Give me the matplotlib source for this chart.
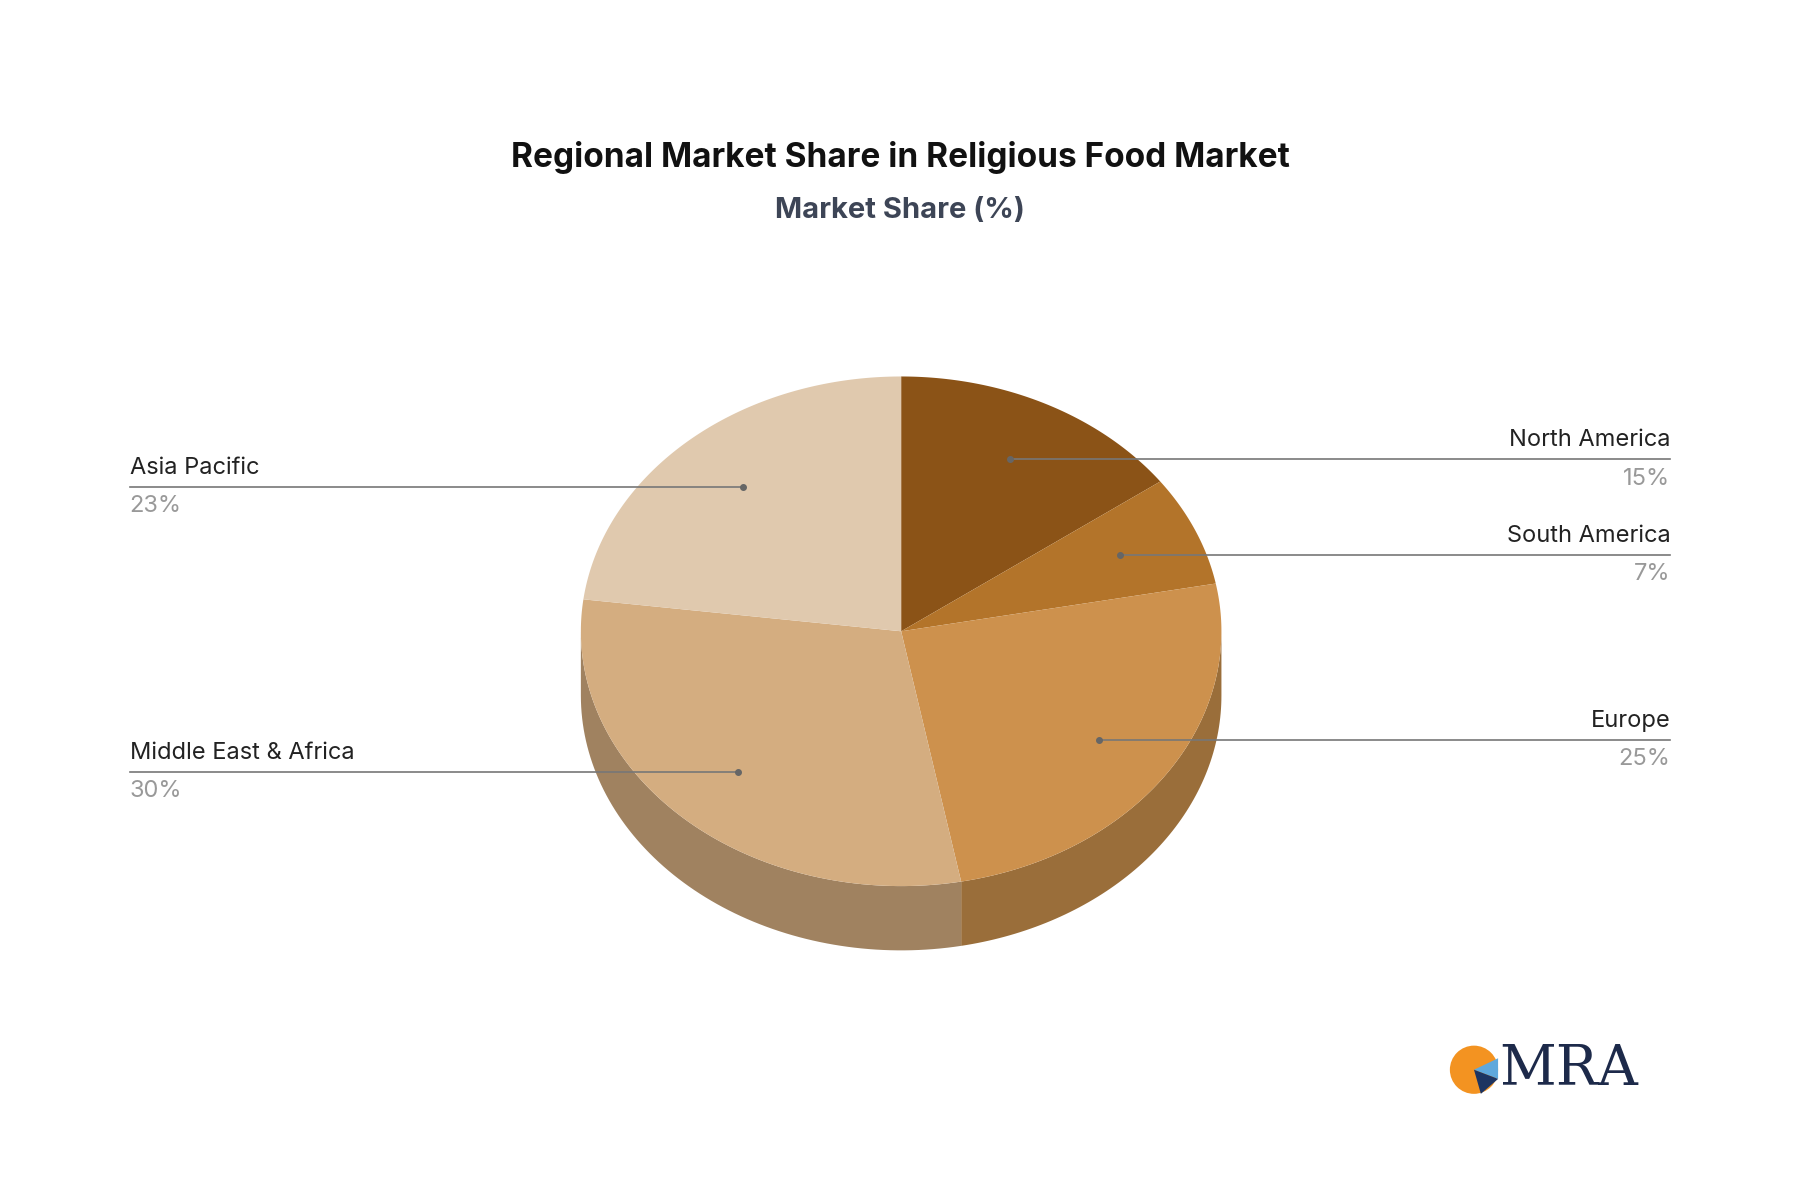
import numpy as np
import matplotlib.pyplot as plt
from matplotlib.patches import Polygon, Circle

regions = ["North America", "South America", "Europe", "Middle East & Africa", "Asia Pacific"]
shares = [15, 7, 25, 30, 23]
top_colors = ["#8b5317", "#b3742a", "#cd914d", "#d4ad80", "#e0c9ae"]
side_colors = ["#6e4212", "#8d5b21", "#9a6e3a", "#a08260", "#b09a80"]

plt.rcParams['font.family'] = ['Inter', 'DejaVu Sans']

W, H = 1568, 1042
fig = plt.figure(figsize=(18, 11.96), dpi=100)
ax = fig.add_axes([0, 0, 1, 1])
ax.set_xlim(0, W)
ax.set_ylim(H, 0)
ax.axis('off')

cx, cy, rx, ry, depth = 785, 550, 279, 222, 56

def pt(a, r=1.0, dy=0):
    return cx + r * rx * np.cos(np.radians(a)), cy - r * ry * np.sin(np.radians(a)) + dy

# angles, clockwise from top
bounds = 90 - np.cumsum([0] + shares) * 3.6
slices = list(zip(bounds[:-1], bounds[1:]))

# side faces (front half only)
for (a0, a1), sc in zip(slices, side_colors):
    lo, hi = max(a1, -180), min(a0, 0)
    if lo >= hi:
        continue
    t = np.linspace(hi, lo, 80)
    top = [pt(a) for a in t]
    bot = [pt(a, dy=depth) for a in t[::-1]]
    ax.add_patch(Polygon(top + bot, closed=True, fc=sc, ec='none'))

# top faces
for (a0, a1), c in zip(slices, top_colors):
    t = np.linspace(a0, a1, 120)
    ax.add_patch(Polygon([(cx, cy)] + [pt(a) for a in t], closed=True, fc=c, ec='none'))

# labels
for (a0, a1), name, s in zip(slices, regions, shares):
    mid = np.radians((a0 + a1) / 2)
    px, py = cx + 208 * np.cos(mid), cy - 168 * np.sin(mid)
    right = np.cos(mid) > 0
    ex = 1455 if right else 113
    ax.plot([px, ex], [py, py], color='#777777', lw=1.2)
    ax.plot([px], [py], 'o', color='#666666', ms=4)
    ha = 'right' if right else 'left'
    ax.text(ex, py - 7, name, ha=ha, va='bottom', fontsize=17, color='#222222')
    ax.text(ex, py + 7, f"{s}%", ha=ha, va='top', fontsize=17, color='#999999')

ax.text(W / 2, 137, "Regional Market Share in Religious Food Market", ha='center', va='center',
        fontsize=24, fontweight='bold', color='#111111')
ax.text(W / 2, 183, "Market Share (%)", ha='center', va='center',
        fontsize=21, fontweight='bold', color='#3d4556')

# logo
ax.add_patch(Circle((1284, 932), 21, fc='#f39321', ec='none'))
ax.add_patch(Polygon([(1284, 932), (1305, 922), (1305, 940)], fc='#5fa8dc', ec='none'))
ax.add_patch(Polygon([(1284, 932), (1305, 940), (1290, 953)], fc='#1d3461', ec='none'))
ax.text(1306, 932, "MRA", ha='left', va='center', fontsize=40, family='DejaVu Serif',
        color='#1d2a4a')

fig.savefig("out.png", dpi=100, facecolor='white')
